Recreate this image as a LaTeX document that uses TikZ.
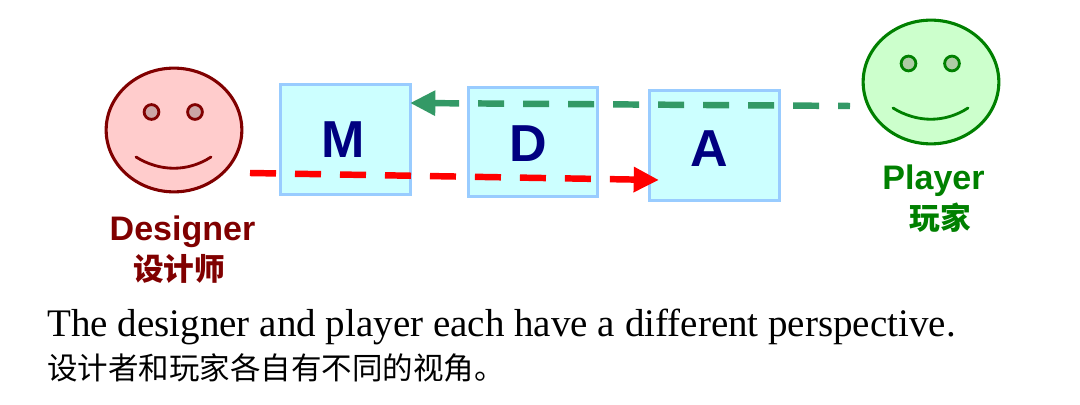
\documentclass[tikz,border=0pt]{standalone}
\usepackage{fontspec}
\setmainfont{Liberation Serif}
\newfontfamily\labelfont{Liberation Sans}
\newfontfamily\cjkfont{Noto Sans CJK SC}
\usetikzlibrary{shapes.geometric,arrows.meta}
\definecolor{facered}{HTML}{FFCCCC}
\definecolor{darkred}{HTML}{800000}
\definecolor{eyered}{HTML}{CBA5A5}
\definecolor{facegreen}{HTML}{CCFFCC}
\definecolor{darkgreen}{HTML}{008000}
\definecolor{eyegreen}{HTML}{AECBA5}
\definecolor{boxfill}{HTML}{CCFFFF}
\definecolor{boxline}{HTML}{99CCFF}
\definecolor{lettercol}{HTML}{000080}
\definecolor{arrowgreen}{HTML}{339966}
\tikzset{
  face/.style={ellipse, draw, line width=2.2pt, minimum width=96.5pt, minimum height=88pt, inner sep=0pt},
  eye/.style={circle, draw, line width=2pt, minimum size=10.5pt, inner sep=0pt},
  mdabox/.style={rectangle, draw=boxline, fill=boxfill, line width=2.2pt, minimum width=92pt, minimum height=78pt, inner sep=0pt},
  mdaletter/.style={text=lettercol, font=\labelfont\bfseries\fontsize{37}{37}\selectfont, inner sep=0pt},
  flow/.style={line width=4.6pt, dash pattern=on 18.5pt off 13.5pt, -{Triangle[length=18pt,width=17pt]}},
  rolelabel/.style={font=\labelfont\bfseries\fontsize{24.2}{24.2}\selectfont, inner sep=0pt},
  rolecjk/.style={font=\cjkfont\bfseries\fontsize{21.8}{21.8}\selectfont, inner sep=0pt},
}
\begin{document}
\begin{tikzpicture}[x=0.025cm,y=-0.025cm]
  \useasboundingbox (0,0) rectangle (1080,405);

  % designer
  \node[face, draw=darkred, fill=facered] (designer) at (174,130) {};
  \node[eye, draw=darkred, fill=eyered] (designereyel) at (151.5,112) {};
  \node[eye, draw=darkred, fill=eyered] (designereyer) at (195,112) {};
  \draw[darkred, line width=2pt, line cap=round] (136,157) .. controls (160,172) and (188,172) .. (211,157);
  \node[rolelabel, text=darkred] (designerlabel) at (182.5,231.5) {Designer};
  \node[rolecjk, text=darkred] (designercjk) at (179,268.5) {设计师};

  % player
  \node[face, draw=darkgreen, fill=facegreen] (player) at (931,82) {};
  \node[eye, draw=darkgreen, fill=eyegreen] (playereyel) at (908.5,63.5) {};
  \node[eye, draw=darkgreen, fill=eyegreen] (playereyer) at (952,63.5) {};
  \draw[darkgreen, line width=2pt, line cap=round] (893,108) .. controls (917,123) and (945,123) .. (968,108);
  \node[rolelabel, text=darkgreen] (playerlabel) at (933.5,181) {Player};
  \node[rolecjk, text=darkgreen] (playercjk) at (940.5,217.5) {玩家};

  % mechanics, dynamics, aesthetics
  \node[mdabox] (M) at (345.5,139.5) {};
  \node[mdabox] (D) at (533,142) {};
  \node[mdabox] (A) at (714.5,145.5) {};
  \node[mdaletter] (Mtext) at (343.5,139.5) {M};
  \node[mdaletter] (Dtext) at (528.5,143.5) {D};
  \node[mdaletter] (Atext) at (709,148.5) {A};

  % arrows
  \coordinate (redstart) at (250,173);
  \coordinate (redend) at (659,180);
  \coordinate (greenstart) at (850,106);
  \coordinate (greenend) at (410,103);
  \draw[flow, red] (redstart) -- (redend);
  \draw[flow, arrowgreen, dash phase=10pt] (greenstart) -- (greenend);

  % caption
  \node[anchor=base west, inner sep=0pt, font=\fontsize{27.76}{27.76}\selectfont] (captionen) at (47,337) {The designer and player each have a different perspective.};
  \node[anchor=base west, inner sep=0pt, font=\cjkfont\fontsize{21.7}{21.7}\selectfont] (captioncjk) at (47,380) {设计者和玩家各自有不同的视角。};
\end{tikzpicture}
\end{document}
